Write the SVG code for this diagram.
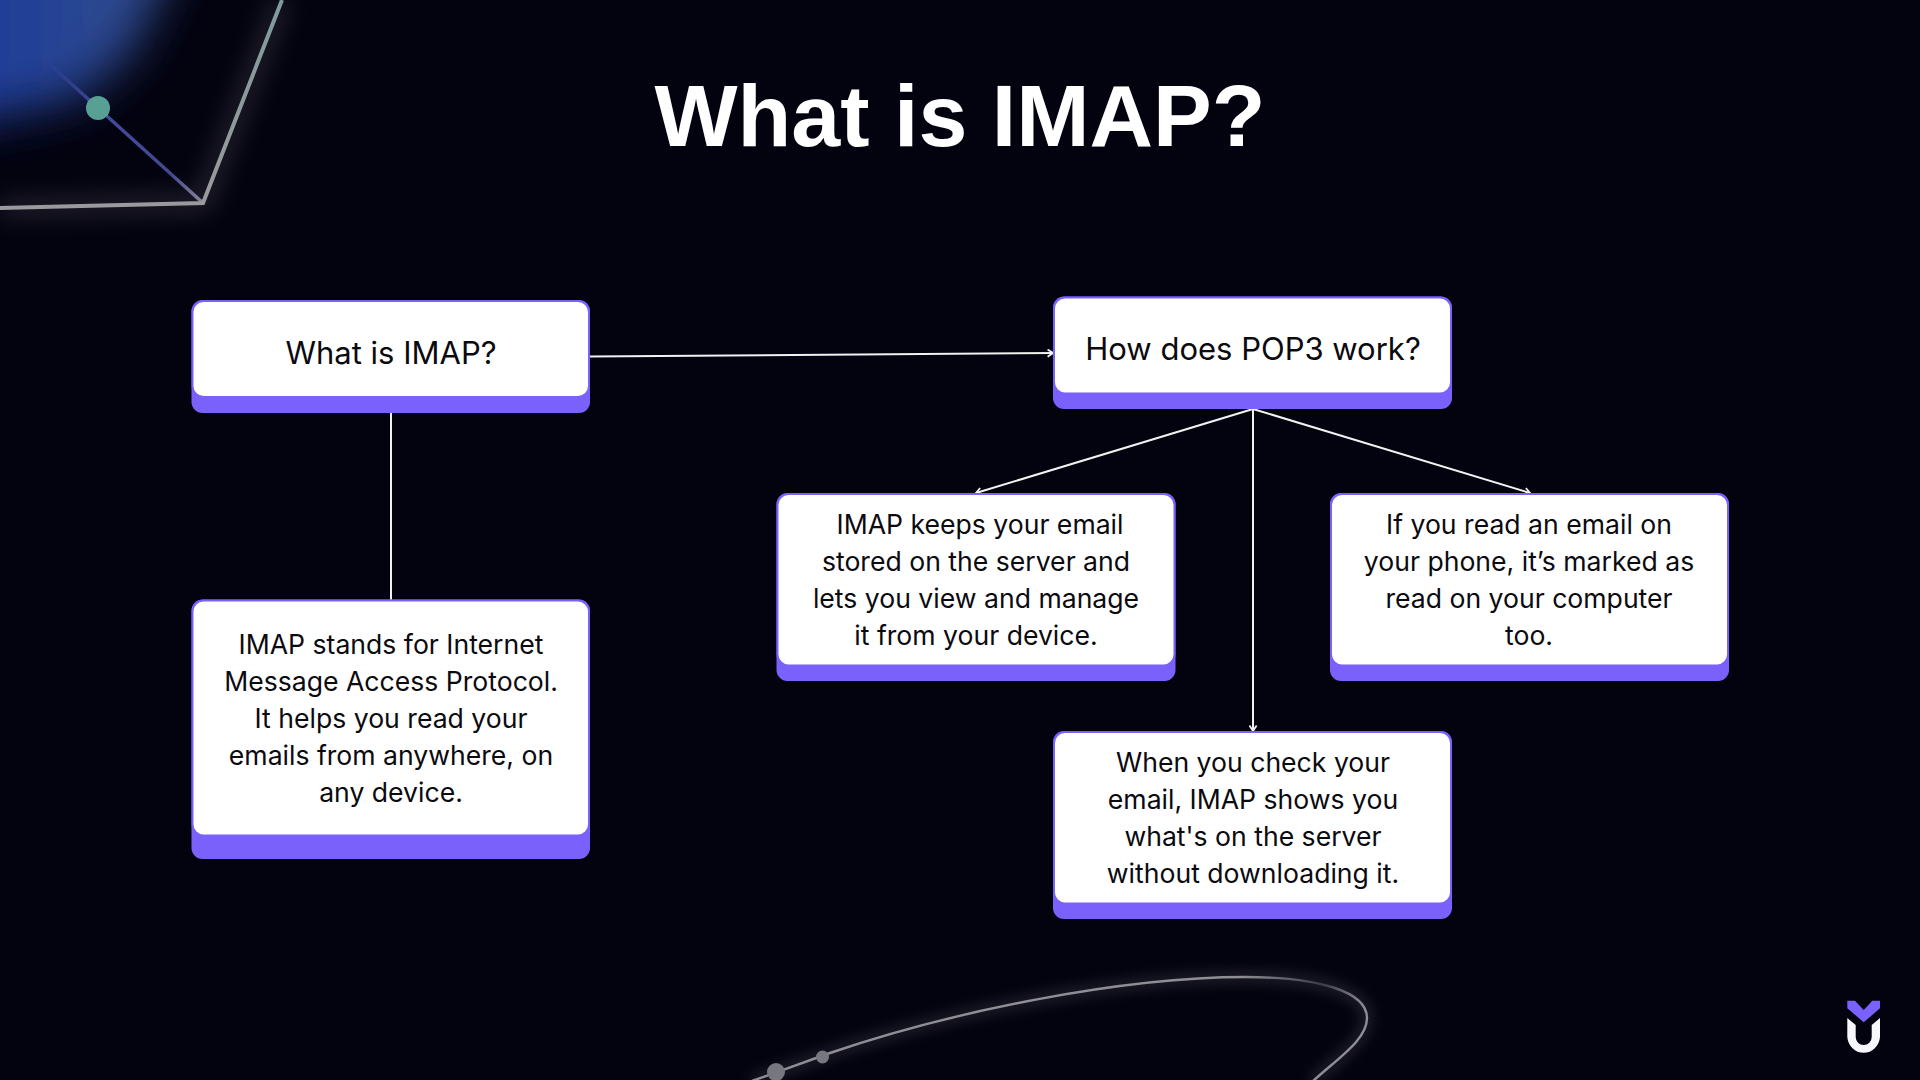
<svg xmlns="http://www.w3.org/2000/svg" width="1920" height="1080" viewBox="0 0 1920 1080">
<defs>
<style>
.base{fill:#7b61fb}
.card{fill:#fff;stroke:#7b61fb;stroke-width:2}
.t{font-family:Inter,"Liberation Sans",sans-serif;font-size:26.6px;fill:#0a0a0f;text-anchor:middle}
.h{font-size:31px}
.c{stroke:#f2f2f2;stroke-width:2;fill:none}
</style>
<marker id="a" viewBox="0 0 10 10" refX="9" refY="5" markerWidth="9" markerHeight="9" orient="auto" markerUnits="userSpaceOnUse"><path d="M3 1L9 5L3 9" fill="none" stroke="#f2f2f2" stroke-width="2"/></marker>
<filter id="b1" x="-50%" y="-50%" width="200%" height="200%"><feGaussianBlur stdDeviation="24"/></filter>
<filter id="b2" x="-30%" y="-30%" width="160%" height="160%"><feGaussianBlur stdDeviation="12"/></filter>
<filter id="b3" x="-30%" y="-100%" width="160%" height="300%"><feGaussianBlur stdDeviation="7"/></filter>
<filter id="b4" x="-10%" y="-10%" width="120%" height="120%"><feGaussianBlur stdDeviation=".6"/></filter>
<linearGradient id="g0" x1="0" y1="0" x2="1" y2="0"><stop offset=".2" stop-color="#1f3c98"/><stop offset="1" stop-color="#33508c"/></linearGradient>
<linearGradient id="g1" gradientUnits="userSpaceOnUse" x1="203" y1="203" x2="282" y2="0"><stop offset="0" stop-color="#9a9a9e"/><stop offset="1" stop-color="#7f9a9a"/></linearGradient>
<linearGradient id="g2" gradientUnits="userSpaceOnUse" x1="45" y1="60" x2="203" y2="203"><stop offset="0" stop-color="#3f4aa0" stop-opacity="0"/><stop offset=".3" stop-color="#3f4aa0"/><stop offset=".8" stop-color="#44478f"/><stop offset="1" stop-color="#8a8a98"/></linearGradient>
<linearGradient id="g3" gradientUnits="userSpaceOnUse" x1="1240" y1="0" x2="1367" y2="0"><stop offset="0" stop-color="#8e8e96"/><stop offset=".65" stop-color="#3c3c48"/><stop offset="1" stop-color="#8e8e96"/></linearGradient>
</defs>
<rect width="1920" height="1080" fill="#03020f"/>
<g id="decor-top">
<path d="M-60 -60H185L130 55L75 100L-60 130Z" fill="url(#g0)" filter="url(#b1)"/>
<path d="M0 208L203 203L282 0" fill="none" stroke="#8a8a90" stroke-width="14" opacity=".3" filter="url(#b2)"/>
<path d="M45 60L203 203" stroke="url(#g2)" stroke-width="3.5" fill="none" filter="url(#b4)"/>
<path d="M0 208L203 203L282 0" fill="none" stroke="url(#g1)" stroke-width="4" filter="url(#b4)"/>
<circle cx="98" cy="108" r="12" fill="#59a094"/>
</g>
<g id="decor-bottom">
<path d="M752 1081L830 1053C950 1012 1120 977 1245 977C1320 977 1367 992 1367 1018C1367 1040 1338 1058 1312 1082" fill="none" stroke="#77777f" stroke-width="8" opacity=".35" filter="url(#b3)"/>
<path d="M752 1081L830 1053C950 1012 1120 977 1245 977C1320 977 1367 992 1367 1018" fill="none" stroke="url(#g3)" stroke-width="2.400"/>
<path d="M1367 1018C1367 1040 1338 1058 1312 1082" fill="none" stroke="#8e8e96" stroke-width="2.400"/>
<circle cx="776" cy="1072" r="9" fill="#77777f"/>
<circle cx="822.500" cy="1057" r="6.500" fill="#77777f"/>
</g>
<g id="logo">
<path d="M1847.300 1000.700H1855L1863.700 1010L1872.300 1000.700H1880V1008.300L1863.700 1022.300L1847.300 1008.300Z" fill="#7b61fb"/>
<path d="M1847.300 1018L1855.700 1025V1037A8 8 0 0 0 1871.700 1037V1025L1880 1018V1037A16.400 17 0 0 1 1847.300 1037Z" fill="#f8f7fb"/>
</g>
<text id="title" x="960" y="146" font-family="Liberation Sans, Arial, sans-serif" font-size="88" font-weight="700" fill="#fff" text-anchor="middle">What is IMAP?</text>
<g id="connectors">
<path class="c" d="M590 356.500L1053 353" marker-end="url(#a)"/>
<path class="c" d="M391 413V600"/>
<path class="c" d="M1253 409L976 493" marker-end="url(#a)"/>
<path class="c" d="M1253 409V731" marker-end="url(#a)"/>
<path class="c" d="M1253 409L1530 493" marker-end="url(#a)"/>
</g>
<g id="n1"><rect class="base" x="191.500" y="300" width="398.500" height="113" rx="11"/><rect class="card" x="192.500" y="301" width="396.500" height="96" rx="11"/><text class="t h" x="391" y="364">What is IMAP?</text></g>
<g id="n2"><rect class="base" x="191.500" y="599.500" width="398.500" height="259.500" rx="11"/><rect class="card" x="192.500" y="600.500" width="396.500" height="235" rx="11"/><text class="t" x="391" y="654"><tspan x="391">IMAP stands for Internet</tspan><tspan x="391" dy="37">Message Access Protocol.</tspan><tspan x="391" dy="37">It helps you read your</tspan><tspan x="391" dy="37">emails from anywhere, on</tspan><tspan x="391" dy="37">any device.</tspan></text></g>
<g id="n3"><rect class="base" x="1053" y="296.500" width="399" height="112.500" rx="11"/><rect class="card" x="1054" y="297.500" width="397" height="96" rx="11"/><text class="t h" x="1253" y="360">How does POP3 work?</text></g>
<g id="n4"><rect class="base" x="776.500" y="493" width="399" height="188" rx="11"/><rect class="card" x="777.500" y="494" width="397" height="171.500" rx="11"/><text class="t" x="976" y="534"><tspan x="980">IMAP keeps your email</tspan><tspan x="976" dy="37">stored on the server and</tspan><tspan x="976" dy="37">lets you view and manage</tspan><tspan x="976" dy="37">it from your device.</tspan></text></g>
<g id="n5"><rect class="base" x="1330" y="493" width="399" height="188" rx="11"/><rect class="card" x="1331" y="494" width="397" height="171.500" rx="11"/><text class="t" x="1529" y="534"><tspan x="1529">If you read an email on</tspan><tspan x="1529" dy="37">your phone, it’s marked as</tspan><tspan x="1529" dy="37">read on your computer</tspan><tspan x="1529" dy="37">too.</tspan></text></g>
<g id="n6"><rect class="base" x="1053" y="731" width="399" height="188" rx="11"/><rect class="card" x="1054" y="732" width="397" height="171.500" rx="11"/><text class="t" x="1253" y="772"><tspan x="1253">When you check your</tspan><tspan x="1253" dy="37">email, IMAP shows you</tspan><tspan x="1253" dy="37">what's on the server</tspan><tspan x="1253" dy="37">without downloading it.</tspan></text></g>
</svg>
